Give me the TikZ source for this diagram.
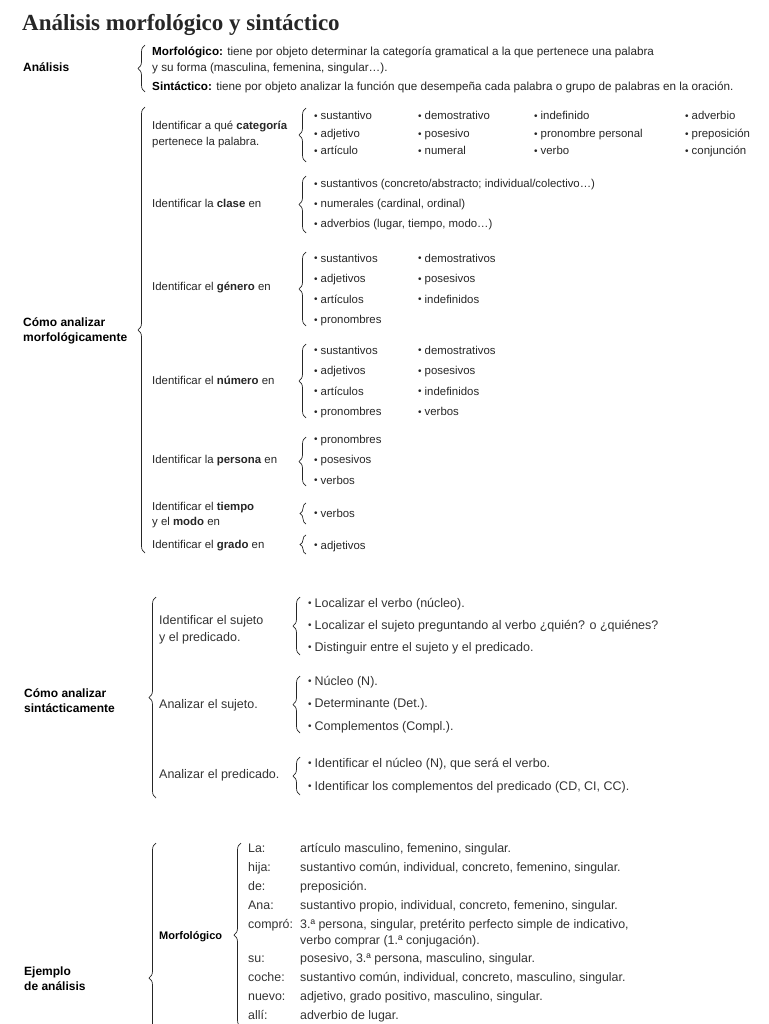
\documentclass[tikz,border=0pt]{standalone}
\usepackage{fontspec}
\setmainfont{Liberation Sans}
\newfontfamily\titlefont{Liberation Serif}
\usetikzlibrary{decorations.pathreplacing}

% small bullet for the lists
\newcommand{\itm}{{\fontsize{10}{10}\selectfont\raisebox{0.05ex}{•}}\hspace{3pt}}

\begin{document}
\begin{tikzpicture}[x=1pt, y=-1pt,
  % Plain text of the first two blocks (node sits on its last baseline)
  body/.style={anchor=base west, inner sep=0pt, align=left, text=black!85,
    font=\fontsize{11.4}{16}\selectfont},
  % Bullet list with its own line distance
  lst/.style={body, font=\fontsize{11.4}{#1}\selectfont},
  % Text of the last two blocks (slightly larger)
  bodyl/.style={anchor=base west, inner sep=0pt, align=left, text=black!80,
    font=\fontsize{12.5}{17}\selectfont},
  lstl/.style={bodyl, font=\fontsize{12.5}{#1}\selectfont},
  % Bold headings on the left
  head/.style={anchor=base west, inner sep=0pt, align=left,
    font=\fontsize{12}{15}\selectfont\bfseries},
  % Curly brace opening to the right
  brc/.style={draw=black!85, line width=0.7pt, decorate,
    decoration={brace, amplitude=#1}},
  brc/.default=7pt
]
\useasboundingbox (0,0) rectangle (768,1024);
\clip (0,0) rectangle (768,1024);

% ---- Title ----
\node[anchor=base west, inner sep=0pt, text=black!85, font=\titlefont\bfseries\fontsize{23}{26}\selectfont]
  (title) at (22,31) {Análisis morfológico y sintáctico};

% ---- Análisis ----
\node[head] (ana) at (23,72) {Análisis};
\node[body, font=\fontsize{11.7}{16}\selectfont] (morf) at (152,72) {{\color{black}\textbf{Morfológico:}} tiene por objeto determinar la categoría gramatical a la que pertenece una palabra\\y su forma (masculina, femenina, singular\dots).};
\node[body, font=\fontsize{11.7}{16}\selectfont] (sint) at (152,91) {{\color{black}\textbf{Sintáctico:}} tiene por objeto analizar la función que desempeña cada palabra o grupo de palabras en la oración.};
\coordinate (anaT) at (145,45);
\coordinate (anaB) at (145,92);
\draw[brc] (anaB) -- (anaT);

% ---- Cómo analizar morfológicamente ----
\node[head] (morfo) at (23,341) {Cómo analizar\\morfológicamente};
\coordinate (morfoT) at (145,107);
\coordinate (morfoB) at (145,553);
\draw[brc] (morfoB) -- (morfoT);

\node[body] (cat) at (152,146) {Identificar a qué \textbf{categoría}\\pertenece la palabra.};
\node[lst=17.5pt] (cat1) at (314,155) {\itm sustantivo\\\itm adjetivo\\\itm artículo};
\node[lst=17.5pt] (cat2) at (418,155) {\itm demostrativo\\\itm posesivo\\\itm numeral};
\node[lst=17.5pt] (cat3) at (534,155) {\itm indefinido\\\itm pronombre personal\\\itm verbo};
\node[lst=17.5pt] (cat4) at (685,155) {\itm adverbio\\\itm preposición\\\itm conjunción};
\coordinate (catT) at (306,108);
\coordinate (catB) at (306,162);
\draw[brc] (catB) -- (catT);

\node[body] (cla) at (152,208) {Identificar la \textbf{clase} en};
\node[lst=20pt] (cla1) at (314,228) {\itm sustantivos (concreto/abstracto; individual/colectivo\dots)\\\itm numerales (cardinal, ordinal)\\\itm adverbios (lugar, tiempo, modo\dots)};
\coordinate (claT) at (306,176);
\coordinate (claB) at (306,233);
\draw[brc] (claB) -- (claT);

\node[body] (gen) at (152,290) {Identificar el \textbf{género} en};
\node[lst=20.6pt] (gen1) at (314,323.8) {\itm sustantivos\\\itm adjetivos\\\itm artículos\\\itm pronombres};
\node[lst=20.6pt] (gen2) at (418,303.2) {\itm demostrativos\\\itm posesivos\\\itm indefinidos};
\coordinate (genT) at (306,252);
\coordinate (genB) at (306,326);
\draw[brc] (genB) -- (genT);

\node[body] (num) at (152,384) {Identificar el \textbf{número} en};
\node[lst=20.6pt] (num1) at (314,415.8) {\itm sustantivos\\\itm adjetivos\\\itm artículos\\\itm pronombres};
\node[lst=20.6pt] (num2) at (418,415.8) {\itm demostrativos\\\itm posesivos\\\itm indefinidos\\\itm verbos};
\coordinate (numT) at (306,344);
\coordinate (numB) at (306,418);
\draw[brc] (numB) -- (numT);

\node[body] (per) at (152,463) {Identificar la \textbf{persona} en};
\node[lst=20.5pt] (per1) at (314,484) {\itm pronombres\\\itm posesivos\\\itm verbos};
\coordinate (perT) at (306,437);
\coordinate (perB) at (306,486);
\draw[brc] (perB) -- (perT);

\node[body, font=\fontsize{11.4}{15}\selectfont] (tie) at (152,525) {Identificar el \textbf{tiempo}\\y el \textbf{modo} en};
\node[body] (tie1) at (314,517) {\itm verbos};
\coordinate (tieT) at (306,503);
\coordinate (tieB) at (306,524);
\draw[brc=6pt] (tieB) -- (tieT);

\node[body] (gra) at (152,548) {Identificar el \textbf{grado} en};
\node[body] (gra1) at (314,549) {\itm adjetivos};
\coordinate (graT) at (306,535);
\coordinate (graB) at (306,554);
\draw[brc=6pt] (graB) -- (graT);

% ---- Cómo analizar sintácticamente ----
\node[head] (sinta) at (24,712) {Cómo analizar\\sintácticamente};
\coordinate (sintaT) at (156,597);
\coordinate (sintaB) at (156,798);
\draw[brc] (sintaB) -- (sintaT);

\node[bodyl] (suj) at (159,641) {Identificar el sujeto\\y el predicado.};
\node[lstl=22pt] (suj1) at (308,651) {\itm Localizar el verbo (núcleo).\\\itm Localizar el sujeto preguntando al verbo ¿quién? o ¿quiénes?\\\itm Distinguir entre el sujeto y el predicado.};
\coordinate (sujT) at (300,597);
\coordinate (sujB) at (300,655);
\draw[brc] (sujB) -- (sujT);

\node[bodyl] (asu) at (159,708) {Analizar el sujeto.};
\node[lstl=22.5pt] (asu1) at (308,730) {\itm Núcleo (N).\\\itm Determinante (Det.).\\\itm Complementos (Compl.).};
\coordinate (asuT) at (300,676);
\coordinate (asuB) at (300,733);
\draw[brc] (asuB) -- (asuT);

\node[bodyl] (apr) at (159,778) {Analizar el predicado.};
\node[lstl=23pt] (apr1) at (308,790) {\itm Identificar el núcleo (N), que será el verbo.\\\itm Identificar los complementos del predicado (CD, CI, CC).};
\coordinate (aprT) at (300,757);
\coordinate (aprB) at (300,795);
\draw[brc] (aprB) -- (aprT);

% ---- Ejemplo de análisis ----
\node[head] (ejem) at (24,990) {Ejemplo\\de análisis};
\coordinate (ejemT) at (156,843);
\coordinate (ejemB) at (156,1113);
\draw[brc] (ejemB) -- (ejemT);

\node[head, font=\fontsize{11}{15}\selectfont\bfseries] (mor) at (159,939) {Morfológico};
\coordinate (morT) at (241,843);
\coordinate (morB) at (241,1027);
\draw[brc] (morB) -- (morT);

\node[bodyl, font=\fontsize{12.4}{19}\selectfont] (ejtab) at (248,852) {%
  \begin{tabular}[t]{@{}p{52pt}@{}l@{}}
  La: & artículo masculino, femenino, singular.\\
  hija: & sustantivo común, individual, concreto, femenino, singular.\\
  de: & preposición.\\
  Ana: & sustantivo propio, individual, concreto, femenino, singular.\\
  compró: & 3.ª persona, singular, pretérito perfecto simple de indicativo,\\[-3pt]
   & verbo comprar (1.ª conjugación).\\[-1pt]
  su: & posesivo, 3.ª persona, masculino, singular.\\
  coche: & sustantivo común, individual, concreto, masculino, singular.\\
  nuevo: & adjetivo, grado positivo, masculino, singular.\\
  allí: & adverbio de lugar.
  \end{tabular}};

\end{tikzpicture}
\end{document}
